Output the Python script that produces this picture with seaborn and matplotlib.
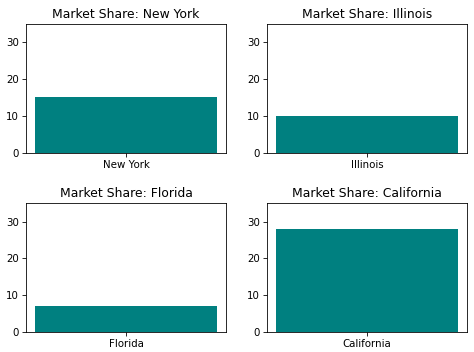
import matplotlib
matplotlib.use("Agg")
import matplotlib.pyplot as plt
import seaborn as sns
import pandas as pd

states = ["New York", "Illinois", "Florida", "California"]
market_share = [15, 10, 7, 28]

df = pd.DataFrame({"state": states, "share": market_share})

fig, axes = plt.subplots(2, 2, figsize=(474 / 74, 352 / 74), dpi=74)

for ax, (_, row) in zip(axes.flat, df.iterrows()):
    sns.barplot(data=df[df["state"] == row["state"]], x="state", y="share",
                color="teal", saturation=1, width=0.8, ax=ax)
    ax.set_xlim(-0.44, 0.44)
    ax.set_ylim(0, 35)
    ax.set_title(f"Market Share: {row['state']}")
    ax.set_xlabel("")
    ax.set_ylabel("")

plt.subplots_adjust(left=0.055, right=0.985, top=0.932, bottom=0.057,
                    wspace=0.205, hspace=0.395)
plt.savefig("out.png", dpi=74)
